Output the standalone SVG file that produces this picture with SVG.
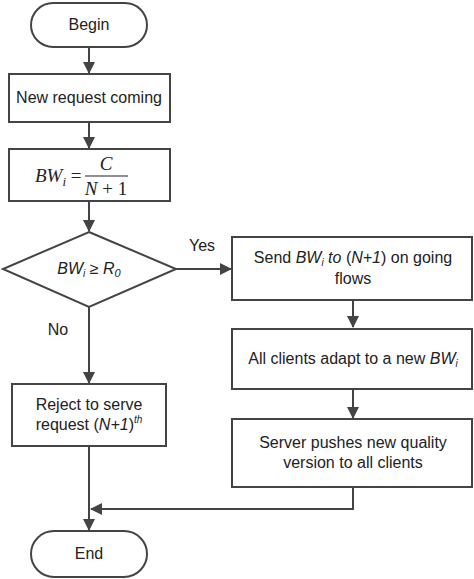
<svg xmlns="http://www.w3.org/2000/svg" width="474" height="579" viewBox="0 0 474 579">
<style>
.box{fill:#fff;stroke:#444;stroke-width:2}
.ln{fill:none;stroke:#444;stroke-width:2}
.t{font-family:"Liberation Sans",Arial,sans-serif;font-size:16px;fill:#222;text-anchor:middle}
.m{font-family:"Liberation Serif","Times New Roman",serif;font-style:italic;font-size:19px;fill:#222}
.i{font-style:italic}
</style>
<defs>
<marker id="ah" markerWidth="12" markerHeight="12" refX="11" refY="6" orient="auto" markerUnits="userSpaceOnUse">
<path d="M0,0 L12,6 L0,12 Z" fill="#444"/>
</marker>
</defs>
<rect width="474" height="579" fill="#fff"/>
<g id="connectors">
<line class="ln" x1="89" y1="47" x2="89" y2="73" marker-end="url(#ah)"/>
<line class="ln" x1="89" y1="122" x2="89" y2="148" marker-end="url(#ah)"/>
<line class="ln" x1="89" y1="201" x2="89" y2="231" marker-end="url(#ah)"/>
<line class="ln" x1="176" y1="269" x2="231" y2="269" marker-end="url(#ah)"/>
<line class="ln" x1="89" y1="307" x2="89" y2="383" marker-end="url(#ah)"/>
<line class="ln" x1="353" y1="300" x2="353" y2="327" marker-end="url(#ah)"/>
<line class="ln" x1="353" y1="389" x2="353" y2="418" marker-end="url(#ah)"/>
<line class="ln" x1="89" y1="446" x2="89" y2="530" marker-end="url(#ah)"/>
<polyline class="ln" points="353,487 353,509 91,509" marker-end="url(#ah)"/>
<text class="t" x="202" y="251">Yes</text>
<text class="t" x="58" y="335">No</text>
</g>
<g id="begin">
<rect class="box" x="31" y="3" width="116" height="44" rx="22"/>
<text class="t" x="89" y="30">Begin</text>
</g>
<g id="new-request">
<rect class="box" x="9" y="74" width="161" height="48"/>
<text class="t" x="89" y="103">New request coming</text>
</g>
<g id="bw-formula">
<rect class="box" x="9" y="149" width="161" height="52"/>
<text class="m" x="35" y="182">BW<tspan font-size="13" dy="4">i</tspan><tspan dy="-4" font-style="normal"> = </tspan></text>
<line x1="85" y1="176" x2="128" y2="176" stroke="#222" stroke-width="1.2"/>
<text class="m" x="106" y="170" text-anchor="middle">C</text>
<text class="m" x="106" y="195" text-anchor="middle">N<tspan font-style="normal"> + 1</tspan></text>
</g>
<g id="decision">
<polygon class="box" points="89,232 176,269 89,307 3,269"/>
<text class="t" x="89" y="274"><tspan class="i">BW</tspan><tspan class="i" font-size="10" dy="3">i</tspan><tspan dy="-3"> ≥ </tspan><tspan class="i">R</tspan><tspan class="i" font-size="11" dy="3">0</tspan></text>
</g>
<g id="send-bw">
<rect class="box" x="232" y="237" width="240" height="63"/>
<text class="t" x="353" y="263">Send <tspan class="i">BW</tspan><tspan class="i" font-size="10" dy="3">i</tspan><tspan class="i" dy="-3"> to</tspan> (<tspan class="i">N+1</tspan>) on going</text>
<text class="t" x="353" y="284">flows</text>
</g>
<g id="clients-adapt">
<rect class="box" x="232" y="329" width="240" height="60"/>
<text class="t" x="353" y="364">All clients adapt to a new <tspan class="i">BW</tspan><tspan class="i" font-size="10" dy="3">i</tspan></text>
</g>
<g id="server-pushes">
<rect class="box" x="232" y="419" width="240" height="68"/>
<text class="t" x="353" y="448">Server pushes new quality</text>
<text class="t" x="353" y="468">version to all clients</text>
</g>
<g id="reject">
<rect class="box" x="12" y="384" width="154" height="62"/>
<text class="t" x="89" y="410">Reject to serve</text>
<text class="t" x="89" y="430">request (<tspan class="i">N+1</tspan>)<tspan class="i" font-size="10" dy="-7">th</tspan></text>
</g>
<g id="end">
<rect class="box" x="31" y="531" width="116" height="46" rx="23"/>
<text class="t" x="89" y="559">End</text>
</g>
</svg>
